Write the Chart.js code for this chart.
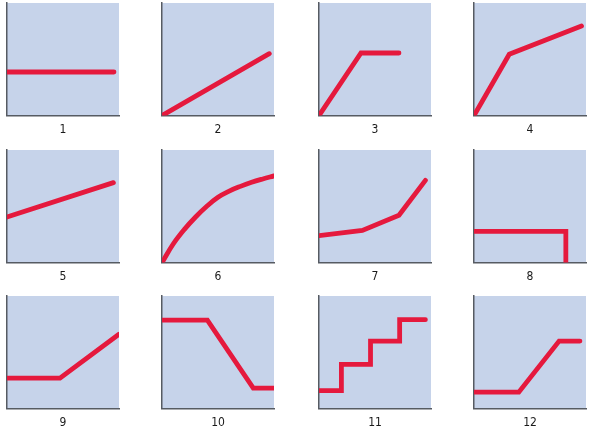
<!DOCTYPE html>
<html>
<head>
<meta charset="utf-8">
<script src="https://cdn.jsdelivr.net/npm/chart.js@4.4.0/dist/chart.umd.min.js"></script>
<style>
  body { margin: 0; background: #fff; }
  #grid { position: relative; width: 594px; height: 434px; }
  .cell { position: absolute; }
</style>
</head>
<body>
<div id="grid"></div>
<script>
// panel captions
const panelLabels = ["1","2","3","4","5","6","7","8","9","10","11","12"];

// each panel's line, x and y on a 0..10 scale
const x1 = [0, 9.55],            y1 = [3.87, 3.87];
const x2 = [0, 9.58],            y2 = [0, 5.5];
const x3 = [0, 3.75, 7.14],      y3 = [0, 5.56, 5.56];
const x4 = [0, 3.15, 9.6],       y4 = [0, 5.45, 7.95];
const x5 = [0, 9.5],             y5 = [4.05, 7.1];
const x6 = [0, 1, 2, 3, 4, 5, 6, 7, 8, 9, 10],
      y6 = [0, 1.65, 2.95, 4.05, 5.0, 5.8, 6.35, 6.77, 7.13, 7.43, 7.7];
const x7 = [0, 3.87, 7.14, 9.5], y7 = [2.4, 2.86, 4.2, 7.3];
const x8 = [0, 8.2, 8.2],        y8 = [2.77, 2.77, 0];
const x9 = [0, 4.73, 10],        y9 = [2.7, 2.7, 6.6];
const x10 = [0, 4.05, 8.15, 10], y10 = [7.86, 7.86, 1.82, 1.82];
const x11 = [0, 2.0, 4.6, 7.2, 9.5], y11 = [1.6, 3.93, 6.0, 7.9, 7.9];
const x12 = [0, 4.0, 7.6, 9.46], y12 = [1.46, 1.46, 6.0, 6.0];

const xsAll = [x1,x2,x3,x4,x5,x6,x7,x8,x9,x10,x11,x12];
const ysAll = [y1,y2,y3,y4,y5,y6,y7,y8,y9,y10,y11,y12];

const colLeft = [7, 162, 319, 474];
const rowTop = [3, 150, 296];
const AREA = 112;
const PAD = 2;

// light blue panel fill behind the line
const panelFill = {
  id: "panelFill",
  beforeDraw(chart) {
    const a = chart.chartArea, c = chart.ctx;
    c.save();
    c.fillStyle = "#c6d3ea";
    c.fillRect(a.left, a.top, a.right - a.left, a.bottom - a.top);
    c.restore();
  }
};

const grid = document.getElementById("grid");

panelLabels.forEach((label, i) => {
  const col = i % 4, row = Math.floor(i / 4);
  const cell = document.createElement("div");
  cell.className = "cell";
  cell.style.left = (colLeft[col] - PAD) + "px";
  cell.style.top = (rowTop[row] - PAD) + "px";
  const cv = document.createElement("canvas");
  cv.width = AREA + PAD * 2;
  cv.height = AREA + PAD + 27;
  cv.style.width = cv.width + "px";
  cv.style.height = cv.height + "px";
  cell.appendChild(cv);
  grid.appendChild(cell);

  const pts = xsAll[i].map((x, k) => ({ x: x, y: ysAll[i][k] }));

  new Chart(cv.getContext("2d"), {
    type: "line",
    data: {
      datasets: [{
        data: pts,
        borderColor: "#e5193d",
        borderWidth: 4.8,
        borderCapStyle: "round",
        borderJoinStyle: "miter",
        pointRadius: 0,
        fill: false,
        clip: 0,
        stepped: i === 10,
        tension: i === 5 ? 0.4 : 0
      }]
    },
    options: {
      responsive: false,
      animation: false,
      events: [],
      layout: { padding: { left: PAD, right: PAD, top: PAD, bottom: 0 } },
      plugins: { legend: { display: false }, tooltip: { enabled: false } },
      scales: {
        x: {
          type: "linear", min: 0, max: 10,
          ticks: { display: false },
          grid: { display: false, drawTicks: false, tickLength: 0 },
          border: { display: true, color: "#565b62", width: 1.5 },
          title: {
            display: true, text: label, color: "#1a1a1a",
            font: { family: "'Liberation Sans Narrow', 'DejaVu Sans Condensed', sans-serif", size: 12, weight: "500" },
            padding: { top: 7, bottom: 5 }
          }
        },
        y: {
          type: "linear", min: 0, max: 10,
          ticks: { display: false },
          grid: { display: false, drawTicks: false, tickLength: 0 },
          border: { display: true, color: "#565b62", width: 1.5 }
        }
      }
    },
    plugins: [panelFill]
  });
});
</script>
</body>
</html>
